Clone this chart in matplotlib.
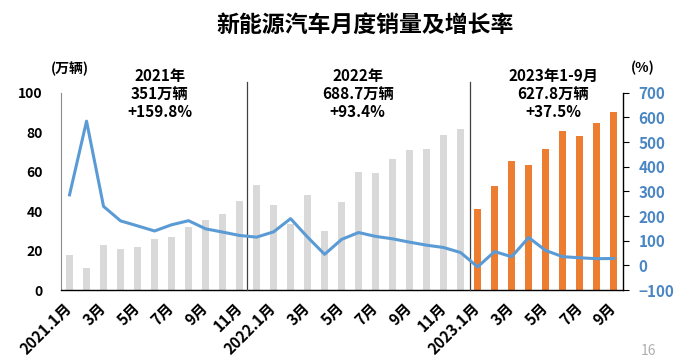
import numpy as np
import matplotlib
matplotlib.use('Agg')
import matplotlib.pyplot as plt

plt.rcParams['font.family'] = ['Noto Sans CJK SC', 'DejaVu Sans']

# monthly NEV sales (万辆), 2021.1 - 2023.9
sales = [17.9, 11.0, 22.6, 20.6, 21.7, 25.6, 27.1, 32.1, 35.7, 38.3, 45.0, 53.1,
         43.1, 33.4, 48.4, 29.9, 44.7, 59.6, 59.3, 66.6, 70.8, 71.4, 78.6, 81.4,
         40.8, 52.5, 65.3, 63.6, 71.7, 80.6, 78.0, 84.6, 90.4]
# year-on-year growth (%)
growth = [285.8, 584.6, 239.0, 180.3, 160.0, 139.3, 164.4, 181.0, 148.1, 134.9, 121.1, 114.3,
          135.8, 189.3, 114.3, 44.6, 105.2, 133.0, 117.3, 107.5, 93.9, 81.7, 72.3, 51.8,
          -6.3, 55.9, 34.8, 112.8, 60.2, 35.2, 30.6, 27.0, 27.7]
years = [2021] * 12 + [2022] * 12 + [2023] * 9
xlabels = ['2021.1月', '3月', '5月', '7月', '9月', '11月',
           '2022.1月', '3月', '5月', '7月', '9月', '11月',
           '2023.1月', '3月', '5月', '7月', '9月']
notes = ['2021年\n351万辆\n+159.8%', '2022年\n688.7万辆\n+93.4%', '2023年1-9月\n627.8万辆\n+37.5%']
note_x = [5.3, 16.95, 28.45]
sep_x = [10.45, 23.55]

grey = '#d9d9d9'
orange = '#ed7d31'
blue = '#5b9bd5'
tick_blue = '#4a86c3'

fig = plt.figure(figsize=(6.92, 3.59), dpi=100)
ax = fig.add_axes([0.0882, 0.1922, 0.8121, 0.5496])

x = np.arange(len(sales))
colors = [orange if y == 2023 else grey for y in years]
ax.bar(x, sales, width=0.38, color=colors, zorder=2)

ax.set_xlim(-0.5, 32.55)
ax.set_ylim(0, 100)
ax.set_yticks(range(0, 101, 20))
ax.tick_params(axis='y', length=0, pad=13, labelsize=10)
for t in ax.get_yticklabels():
    t.set_fontweight('bold')
ax.set_xticks(x[::2])
ax.set_xticklabels(xlabels, rotation=45, ha='right', va='center',
                   rotation_mode='anchor', fontsize=11, fontweight='bold')
ax.tick_params(axis='x', length=0, pad=11)

for s in ['top', 'right']:
    ax.spines[s].set_visible(False)
ax.spines['left'].set_color('#8c8c8c')
ax.spines['left'].set_linewidth(0.8)
ax.spines['bottom'].set_color('black')
ax.spines['bottom'].set_linewidth(1.0)

for sx in sep_x:
    ax.plot([sx, sx], [0, 105.5], color='#404040', lw=0.9, clip_on=False, zorder=3)

for nx, txt in zip(note_x, notes):
    ax.text(nx, 99.5, txt, ha='center', va='center', fontsize=11, fontweight='bold',
            linespacing=1.15, clip_on=False)

ax2 = ax.twinx()
ax2.plot(x, growth, color=blue, lw=2.2, zorder=4)
ax2.set_ylim(-100, 700)
ax2.set_yticks(range(-100, 701, 100))
ax2.tick_params(axis='y', length=4, width=0.8, pad=7, labelsize=11, labelcolor=tick_blue)
for t in ax2.get_yticklabels():
    t.set_fontweight('bold')
for s in ['top', 'left', 'bottom']:
    ax2.spines[s].set_visible(False)
ax2.spines['right'].set_color('black')
ax2.spines['right'].set_linewidth(1.0)

fig.text(70 / 692, 1 - 69 / 359, '(万辆)', ha='center', va='center', fontsize=10, fontweight='bold')
fig.text(643 / 692, 1 - 68 / 359, '(%)', ha='center', va='center', fontsize=10, fontweight='bold')
fig.text(365 / 692, 1 - 25 / 359, '新能源汽车月度销量及增长率', ha='center', va='center',
         fontsize=16.5, fontweight='bold')
fig.text(648 / 692, 1 - 351 / 359, '16', ha='center', va='center', fontsize=10, color='#b0b0b0')

fig.savefig('out.png', dpi=100)
